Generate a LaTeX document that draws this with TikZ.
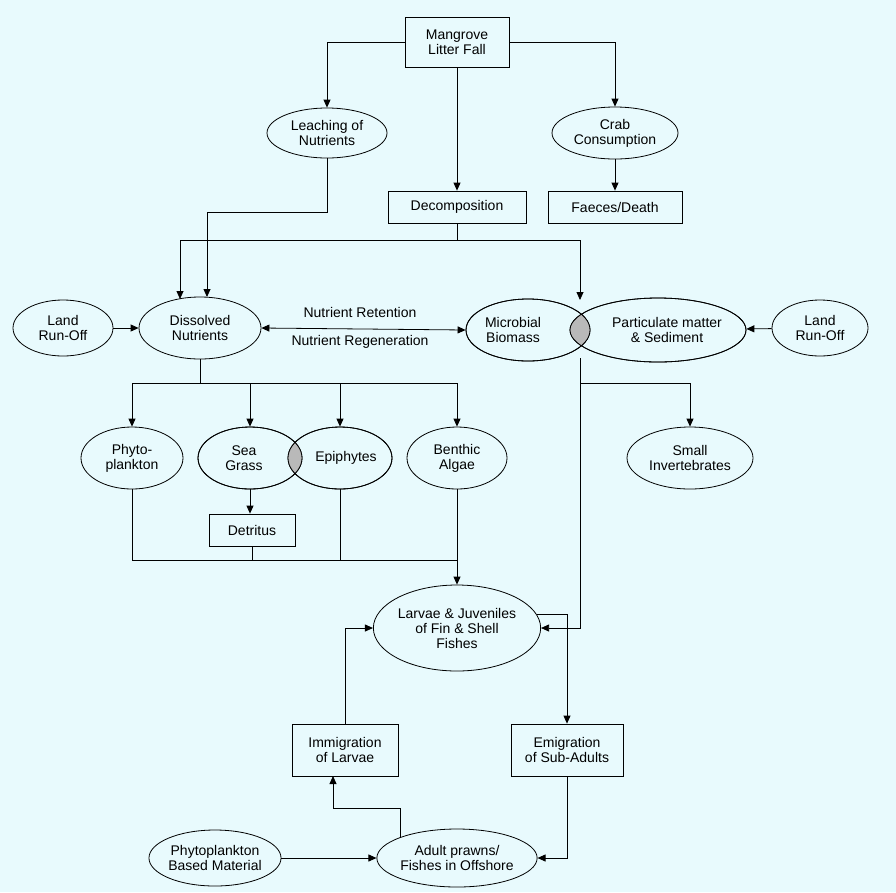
\documentclass[tikz,border=0pt]{standalone}
\usepackage{fontspec}
\setmainfont{Liberation Sans}
\usetikzlibrary{positioning,arrows.meta,shapes.geometric}
\definecolor{bgcyan}{HTML}{E8FAFD}
\begin{document}
\begin{tikzpicture}[x=1pt,y=-1pt,
     font=\fontsize{14}{15}\selectfont,
     >={Triangle[length=8pt,width=7pt]},
        box/.style = {rectangle, draw, thick, align=center, inner sep=3pt},
        oval/.style = {ellipse, draw, thick, align=center, inner sep=0pt},
        link/.style = {thick}
                        ]
\fill[bgcyan] (0,0) rectangle (896,892);
\useasboundingbox (0,0) rectangle (896,892);
\node (litter)[box, minimum width=104pt, minimum height=50pt] at (457,42) {Mangrove\\Litter Fall};
\node (leach)[oval, minimum width=120pt, minimum height=50pt] at (327,133) {Leaching of\\Nutrients};
\node (crab)[oval, minimum width=126pt, minimum height=52pt] at (615,133) {Crab\\Consumption};
\node (decomp)[box, minimum width=138pt, minimum height=32pt] at (457,207) {Decomposition};
\node (faeces)[box, minimum width=134pt, minimum height=32pt] at (615,207) {Faeces/Death};
\node (landl)[oval, minimum width=100pt, minimum height=56pt] at (63,328) {Land\\Run-Off};
\node (dissolved)[oval, minimum width=122pt, minimum height=62pt] at (200,328) {Dissolved\\Nutrients};
\node (microbe)[oval, minimum width=124pt, minimum height=62pt] at (528,330) {};
\node (partic)[oval, minimum width=176pt, minimum height=64pt] at (658,330) {};
\node (landr)[oval, minimum width=96pt, minimum height=56pt] at (820,328) {Land\\Run-Off};
\node (phyto)[oval, minimum width=102pt, minimum height=62pt] at (132,458) {Phyto-\\plankton};
\node (grass)[oval, minimum width=104pt, minimum height=62pt] at (250,458) {};
\node (epi)[oval, minimum width=104pt, minimum height=62pt] at (340,458) {};
\node (benthic)[oval, minimum width=100pt, minimum height=62pt] at (457,458) {Benthic\\Algae};
\node (invert)[oval, minimum width=126pt, minimum height=62pt] at (690,458) {Small\\Invertebrates};
\node (detritus)[box, minimum width=86pt, minimum height=32pt] at (252,530) {Detritus};
\node (larvae)[oval, minimum width=152pt, minimum height=86pt] at (457,628) {Larvae \& Juveniles\\of Fin \& Shell\\Fishes};
\node (immig)[box, minimum width=106pt, minimum height=52pt] at (345,750) {Immigration\\of Larvae};
\node (emig)[box, minimum width=112pt, minimum height=52pt] at (567,750) {Emigration\\of Sub-Adults};
\node (pbased)[oval, minimum width=132pt, minimum height=56pt] at (215,858) {Phytoplankton\\Based Material};
\node (adult)[oval, minimum width=152pt, minimum height=58pt] at (457,858) {Adult prawns/\\Fishes in Offshore};
% shaded overlaps
\begin{scope}
\clip (528,330) ellipse (62 and 31);
\fill[gray!55] (658,330) ellipse (88 and 32);
\end{scope}
\begin{scope}
\clip (250,458) ellipse (52 and 31);
\fill[gray!55] (340,458) ellipse (52 and 31);
\end{scope}
\draw[thick] (528,330) ellipse (62 and 31) (658,330) ellipse (88 and 32)
  (250,458) ellipse (52 and 31) (340,458) ellipse (52 and 31);
\node[align=center] at (513,330) {Microbial\\Biomass};
\node[align=center] at (667,330) {Particulate matter\\\& Sediment};
\node[align=center] at (244,458) {Sea\\Grass};
\node at (346,458) {Epiphytes};
\node (ret) at (360,312) {Nutrient Retention};
\node (reg) at (360,342) {Nutrient Regeneration};
\coordinate (hub) at (580,358);
% connectors
\draw[link,->] (litter.west) -| (leach.north);
\draw[link,->] (litter.east) -| (crab.north);
\draw[link,->] (litter) -- (decomp);
\draw[link,->] (crab) -- (faeces);
\draw[link,->] (leach.south) |- (207,212) -- (207,297);
\draw[link] (decomp.south) -- (457,240);
\draw[link,->] (457,240) -| (180,299);
\draw[link,->] (457,240) -| (580,300);
\draw[link,->] (landl) -- (dissolved);
\draw[link,->] (landr) -- (partic);
\draw[link,<->] (dissolved.east) -- (microbe.west);
\draw[link] (dissolved.south) -- (200,383);
\draw[link,->] (200,383) -| (phyto.north);
\draw[link,->] (200,383) -| (grass.north);
\draw[link,->] (200,383) -| (epi.north);
\draw[link,->] (200,383) -| (benthic.north);
\draw[link,->] (hub) |- (larvae.east);
\draw[link,->] (580,383) -| (invert.north);
\draw[link,->] (grass.south) -- (detritus.north -| grass.south);
\draw[link] (phyto.south) |- (457,560);
\draw[link] (detritus.south) -- (252,560);
\draw[link] (epi.south) -- (340,560);
\draw[link,->] (benthic.south) -- (larvae.north);
\draw[link,->] (larvae.10) -| (emig.north);
\draw[link,->] (emig.south) |- (adult.east);
\draw[link,->] (pbased) -- (adult);
\draw[link,->] (adult.north west) |- (333,808) -- (333,776);
\draw[link,->] (immig.north) |- (larvae.west);
\end{tikzpicture}
\end{document}
